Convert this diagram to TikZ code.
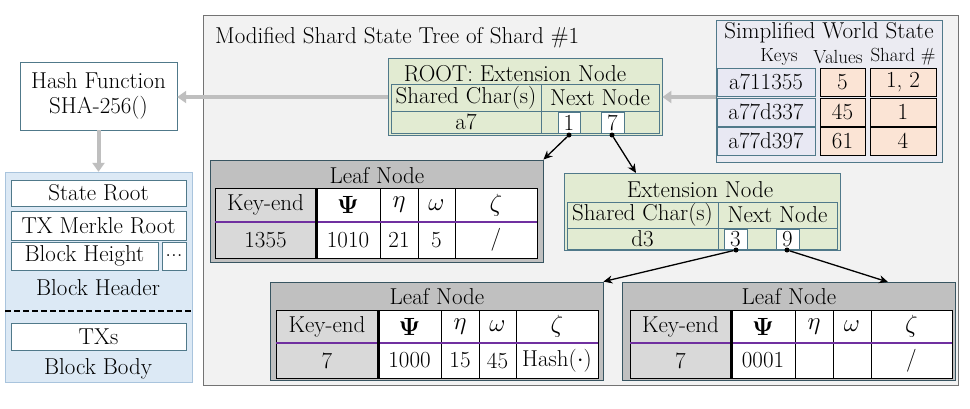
\documentclass[tikz,border=0pt]{standalone}
\usepackage{amsmath}
\usepackage{fontspec}
\usetikzlibrary{arrows.meta}
\definecolor{steel}{HTML}{50798A}
\definecolor{extg}{HTML}{E2EBD2}
\definecolor{leafg}{HTML}{C0C0C0}
\definecolor{keyg}{HTML}{D9D9D9}
\definecolor{blk}{HTML}{DCE9F5}
\definecolor{blkb}{HTML}{A9C4DD}
\definecolor{orng}{HTML}{FBE4D5}
\definecolor{purp}{HTML}{7030A0}
\definecolor{pan}{HTML}{F2F2F2}
\newcommand\bx[7]{\node[#6,inner sep=0pt,minimum width={(#4-#2)*1pt},minimum height={(#5-#3)*1pt}] (#1) at ({(#2+#4)/2},{-(#3+#5)/2}) {#7};}
\tikzset{
 T/.style={font=\rmfamily\fontsize{23}{25}\selectfont},
 S/.style={font=\rmfamily\fontsize{19}{21}\selectfont},
 wb/.style={draw=steel,fill=white,T},
 ext/.style={draw=steel,fill=extg,line width=0.8pt},
 extc/.style={draw=steel,T},
 leaf/.style={draw=steel!70!black,fill=leafg,line width=0.8pt},
 cell/.style={draw=black,fill=white,T,line width=0.5pt},
 kcell/.style={draw=black,fill=keyg,T,line width=0.5pt},
 garrow/.style={draw=black!25,line width=4pt,-{Triangle[length=9pt,width=12pt]}},
 karrow/.style={draw=black,line width=1.3pt,-{Stealth[length=9pt,width=8pt]}},
 dot/.style={circle,fill=black,inner sep=0pt,minimum size=5pt},
}
\begin{document}
\begin{tikzpicture}[x=1pt,y=1pt]
\useasboundingbox (0,0) rectangle (970,-408);
\fill[white] (0,0) rectangle (970,-408);
% main panel
\bx{panel}{203}{15}{958}{385}{draw=black!55,fill=pan}{}
\node[T,anchor=west,inner sep=0pt] (title) at (215,-38) {Modified Shard State Tree of Shard \#1};
% hash
\bx{hash}{20}{62}{177}{130}{draw=steel,fill=white,T,align=center}{Hash Function\\SHA-256()}
% block
\bx{block}{5}{172}{192}{382}{draw=blkb,fill=blk}{}
\bx{sr}{11}{180}{186}{206}{wb}{State Root}
\bx{tx}{11}{211}{186}{240}{wb}{TX Merkle Root}
\bx{bh}{11}{242}{158}{270}{wb}{Block Height}
\bx{dots}{162}{242}{186}{270}{wb}{...}
\node[T] (bhd) at (98,-288) {Block Header};
\draw[line width=2pt,dash pattern=on 6pt off 3pt] (5,-311) -- (192,-311);
\bx{txs}{11}{323}{186}{350}{wb}{TXs}
\node[T] (bbd) at (98,-369) {Block Body};
% root
\bx{root}{388}{58}{662}{135}{ext}{}
\node[T] (rt) at (515,-74) {ROOT: Extension Node};
\bx{rsc}{391}{84}{541}{111}{extc}{Shared Char(s)}
\bx{rnn}{541}{84}{659}{111}{extc}{Next Node}
\bx{rsv}{391}{111}{541}{133}{extc}{a7}
\bx{rnv}{541}{111}{659}{133}{extc}{}
\bx{r1}{558}{112}{580}{133}{draw=steel,fill=white,T}{1}
\bx{r7}{601}{112}{624}{133}{draw=steel,fill=white,T}{7}
\node[dot] (d1) at (569,-135) {};
\node[dot] (d7) at (612,-135) {};
% ext node
\bx{ext}{564}{173}{840}{250}{ext}{}
\node[T] (et) at (700,-190) {Extension Node};
\bx{esc}{567}{202}{718}{228}{extc}{Shared Char(s)}
\bx{enn}{718}{202}{837}{228}{extc}{Next Node}
\bx{esv}{567}{228}{718}{249}{extc}{d3}
\bx{env}{718}{228}{837}{249}{extc}{}
\bx{e3}{724}{229}{747}{249}{draw=steel,fill=white,T}{3}
\bx{e9}{776}{229}{799}{249}{draw=steel,fill=white,T}{9}
\node[dot] (d3) at (736,-250) {};
\node[dot] (d9) at (787,-250) {};
% leaf 1
\bx{leafA}{210}{160}{543}{262}{leaf}{}
\node[T] at (377,-176) {Leaf Node};
\bx{a1}{215}{188}{316}{222}{kcell}{Key-end}
\bx{a2}{316}{188}{380}{222}{cell}{$\boldsymbol{\Psi}$}
\bx{a3}{380}{188}{418}{222}{cell}{$\eta$}
\bx{a4}{418}{188}{455}{222}{cell}{$\omega$}
\bx{a5}{455}{188}{537}{222}{cell}{$\zeta$}
\bx{b1}{215}{222}{316}{258}{kcell}{1355}
\bx{b2}{316}{222}{380}{258}{cell}{1010}
\bx{b3}{380}{222}{418}{258}{cell}{21}
\bx{b4}{418}{222}{455}{258}{cell}{5}
\bx{b5}{455}{222}{537}{258}{cell}{/}
\draw[purp,line width=2.5pt] (215,-222) -- (537,-222);
\draw[black,line width=3pt] (316,-188) -- (316,-258);
% leaf 2
\bx{leafB}{270}{282}{603}{380}{leaf}{}
\node[T] at (437,-297) {Leaf Node};
\bx{c1}{276}{310}{378}{343}{kcell}{Key-end}
\bx{c2}{378}{310}{441}{343}{cell}{$\boldsymbol{\Psi}$}
\bx{c3}{441}{310}{479}{343}{cell}{$\eta$}
\bx{c4}{479}{310}{516}{343}{cell}{$\omega$}
\bx{c5}{516}{310}{598}{343}{cell}{$\zeta$}
\bx{e1}{276}{343}{378}{378}{kcell}{7}
\bx{e2}{378}{343}{441}{378}{cell}{1000}
\bx{e3b}{441}{343}{479}{378}{cell}{15}
\bx{e4}{479}{343}{516}{378}{cell}{45}
\bx{e5}{516}{343}{598}{378}{cell}{Hash($\cdot$)}
\draw[purp,line width=2.5pt] (276,-343) -- (598,-343);
\draw[black,line width=3pt] (378,-310) -- (378,-378);
% leaf 3
\bx{leafC}{622}{282}{955}{380}{leaf}{}
\node[T] at (789,-297) {Leaf Node};
\bx{f1}{630}{310}{731}{343}{kcell}{Key-end}
\bx{f2}{731}{310}{795}{343}{cell}{$\boldsymbol{\Psi}$}
\bx{f3}{795}{310}{833}{343}{cell}{$\eta$}
\bx{f4}{833}{310}{871}{343}{cell}{$\omega$}
\bx{f5}{871}{310}{952}{343}{cell}{$\zeta$}
\bx{g1}{630}{343}{731}{378}{kcell}{7}
\bx{g2}{731}{343}{795}{378}{cell}{0001}
\bx{g3}{795}{343}{833}{378}{cell}{}
\bx{g4}{833}{343}{871}{378}{cell}{}
\bx{g5}{871}{343}{952}{378}{cell}{/}
\draw[purp,line width=2.5pt] (630,-343) -- (952,-343);
\draw[black,line width=3pt] (731,-310) -- (731,-378);
% world state
\bx{ws}{716}{20}{942}{162}{draw=steel,fill=blue!3!pan,line width=0.8pt}{}
\node[T] (wst) at (829,-33) {Simplified World State};
\node[S] (hk) at (779,-57) {Keys};
\node[S] (hv) at (838,-57) {Values};
\node[S] (hs) at (903,-57) {Shard \#};
\tikzset{kb/.style={draw=steel,fill=blue!4!pan,T},ob/.style={draw=black,fill=orng,T}}
\bx{k1}{717}{68}{815}{96}{kb}{a711355}
\bx{k2}{717}{98}{815}{126}{kb}{a77d337}
\bx{k3}{717}{127}{815}{155}{kb}{a77d397}
\bx{v1}{820}{68}{865}{96}{ob}{5}
\bx{v2}{820}{98}{865}{126}{ob}{45}
\bx{v3}{820}{127}{865}{155}{ob}{61}
\bx{s1}{870}{68}{936}{96}{ob}{1, 2}
\bx{s2}{870}{98}{936}{126}{ob}{1}
\bx{s3}{870}{127}{936}{155}{ob}{4}
% arrows
\draw[garrow] (ws.west |- 0,-97) -- (root.east |- 0,-97);
\draw[garrow] (root.west |- 0,-97) -- (hash.east |- 0,-97);
\draw[garrow] (hash.south) -- (block.north -| hash.south);
\draw[karrow] (d1) -- (leafA.north east);
\draw[karrow] (d7) -- (636,-173);
\draw[karrow] (d3) -- (leafB.north east);
\draw[karrow] (d9) -- (888,-282);
\end{tikzpicture}
\end{document}
